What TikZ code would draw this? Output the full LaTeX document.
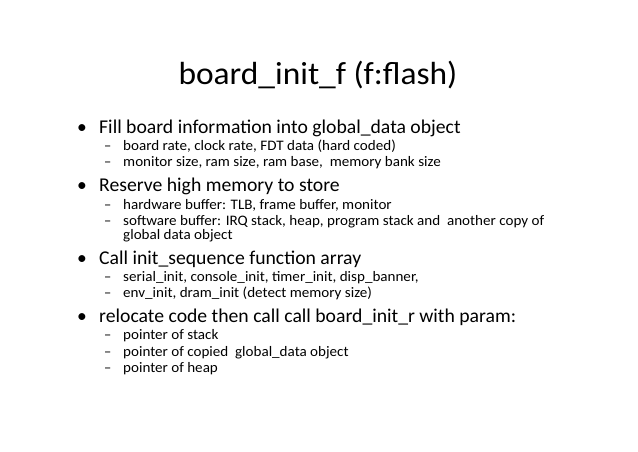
\documentclass[tikz,border=0pt]{standalone}
\usepackage{fontspec}
\setmainfont{Carlito}
\begin{document}
\begin{tikzpicture}[x=1pt,y=-1pt,
  lone/.style={anchor=base west,inner sep=0,font=\fontsize{19.5}{22}\selectfont,xscale=1.01},
  ltwo/.style={anchor=base west,inner sep=0,font=\fontsize{14.5}{17}\selectfont,xscale=1.04},
  bul/.style={anchor=base,inner sep=0,font=\fontsize{19.5}{22}\selectfont},
  dsh/.style={anchor=base west,inner sep=0,font=\fontsize{14.5}{17}\selectfont}]
\path[use as bounding box] (0,0) rectangle (638,451);
\node[anchor=base,inner sep=0,font=\fontsize{32}{36}\selectfont,xscale=1.045] (t) at (318,84) {board\_init\_f (f:flash)};
\foreach \y/\n/\s in {133/a/{Fill board information into global\_data object},
  191/b/{Reserve high memory to store},
  264/c/{Call init\_sequence function array},
  322/d/{relocate code then call call board\_init\_r with param:}}{
  \node[bul] (b\n) at (82,\y) {•};
  \node[lone] (\n) at (99,\y) {\s};
}
\foreach \y/\n/\s in {150/a1/{board rate, clock rate, FDT data (hard coded)},
  166/a2/{monitor size, ram size, ram base,\ \ memory bank size},
  209/b1/{hardware buffer: TLB, frame buffer, monitor},
  225/b2/{software buffer: IRQ stack, heap, program stack and\ \ another copy of},
  281/c1/{serial\_init, console\_init, timer\_init, disp\_banner,},
  297/c2/{env\_init, dram\_init (detect memory size)},
  339/d1/{pointer of stack},
  356/d2/{pointer of copied\ \ global\_data object},
  372/d3/{pointer of heap}}{
  \node[dsh] (m\n) at (104,\y) {–};
  \node[ltwo] (\n) at (123,\y) {\s};
}
\node[ltwo] (b2x) at (123,239) {global data object};
\end{tikzpicture}
\end{document}
